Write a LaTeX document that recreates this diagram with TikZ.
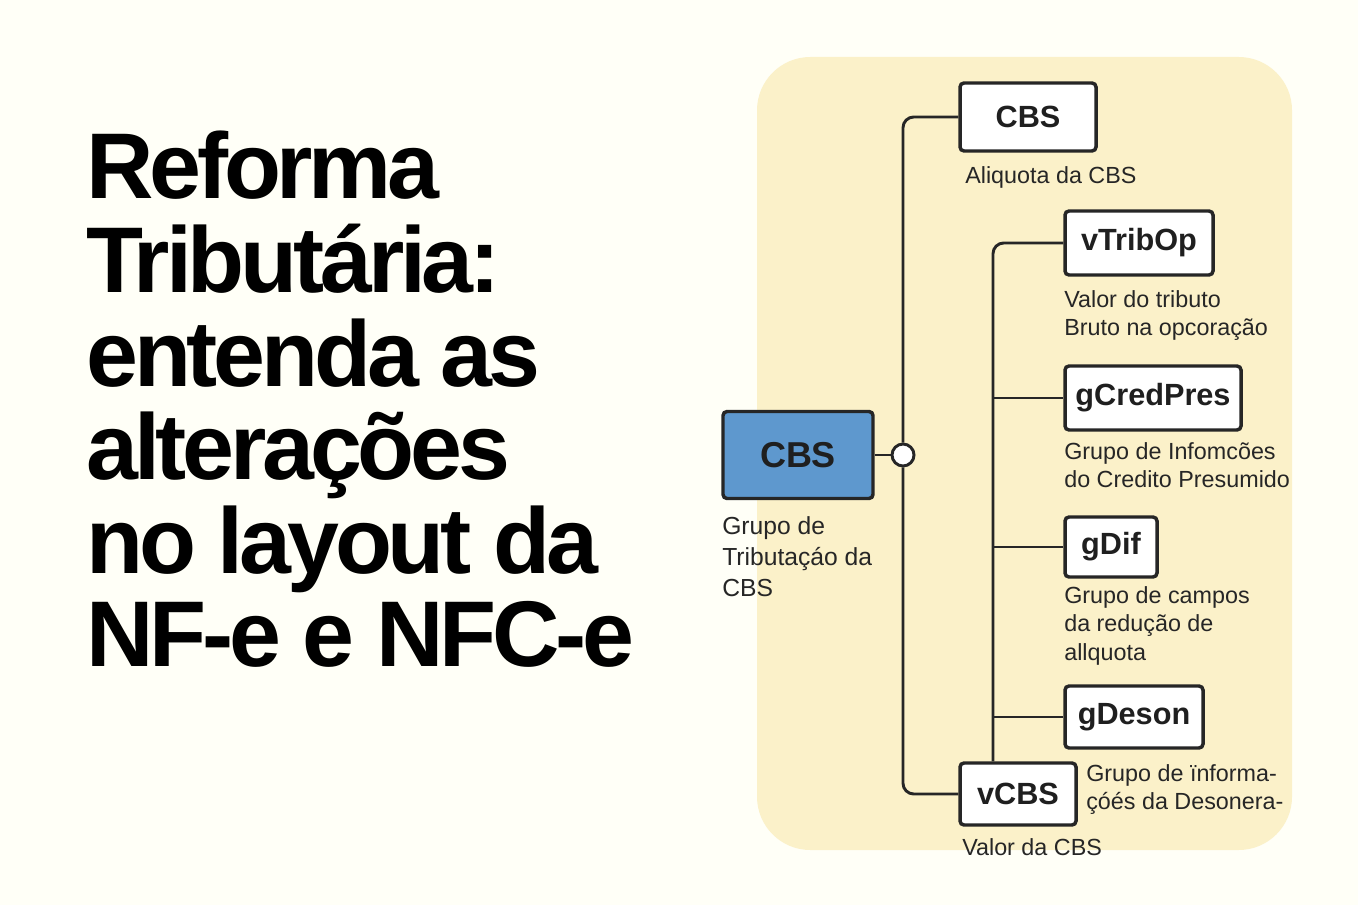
\documentclass[tikz,border=0pt]{standalone}
\usepackage{fontspec}
\setmainfont{Liberation Sans}
\newfontfamily\titlefont[LetterSpace=-4.5]{Liberation Sans}
\begin{document}
\begin{tikzpicture}[x=0.75pt,y=-0.75pt,
  box/.style={draw=black!85,line width=2.6pt,rounded corners=3pt,fill=white,font=\bfseries\fontsize{23}{23}\selectfont,inner sep=0pt,text=black!88},
  lbl/.style={anchor=north west,align=left,font=\fontsize{17.5}{21.5}\selectfont,inner sep=0pt,text=black!85},
  wire/.style={line width=2.2pt,draw=black!85,rounded corners=8pt}]
\fill[white!97!yellow] (0,0) rectangle (1358,905);
\useasboundingbox (0,0) rectangle (1358,905);
\fill[rounded corners=40pt,fill={rgb,255:red,251;green,241;blue,201}] (757,57) rectangle (1292,850);
\node[anchor=north west,align=left,inner sep=0pt,font=\titlefont\bfseries\fontsize{70}{70.2}\selectfont] (title) at (86,131)
 {Reforma\\Tributária:\\entenda as\\alterações\\no layout da\\NF-e e NFC-e};
% nodes
\node[box,minimum width=136*0.75pt,minimum height=68*0.75pt] (cbs1) at (1028,117) {CBS};
\node[box,minimum width=148*0.75pt,minimum height=64*0.75pt] (vtrib) at (1139,243) {vTribOp};
\node[box,minimum width=176*0.75pt,minimum height=64*0.75pt] (gcred) at (1153,398) {gCredPres};
\node[box,minimum width=92*0.75pt,minimum height=60*0.75pt] (gdif) at (1111,547) {gDif};
\node[box,minimum width=138*0.75pt,minimum height=62*0.75pt] (gdes) at (1134,717) {gDeson};
\node[box,minimum width=116*0.75pt,minimum height=62*0.75pt] (vcbs) at (1018,794) {vCBS};
\node[box,fill={rgb,255:red,94;green,152;blue,206},minimum width=150*0.75pt,minimum height=87*0.75pt,font=\bfseries\fontsize{27}{27}\selectfont] (cbs) at (798,455) {CBS};
\node[circle,draw=black!85,line width=2.2pt,fill=white,minimum size=22*0.75pt,inner sep=0pt] (hub) at (903,455) {};
% wires
\draw[wire] (cbs.east) -- (hub.west);
\draw[wire] (hub.north) |- (cbs1.west);
\draw[wire] (hub.south) |- (vcbs.west);
\coordinate (t2) at (993,243);
\draw[wire] (vtrib.west) -| (vcbs.north -| t2);
\draw[wire] (gcred.west -| t2) -- (gcred.west);
\draw[wire] (gdif.west -| t2) -- (gdif.west);
\draw[wire] (gdes.west -| t2) -- (gdes.west);
% labels
\node[lbl] (l1) at (965,166) {Aliquota da CBS};
\node[lbl] (l2) at (1064,290) {Valor do tributo\\Bruto na opcoração};
\node[lbl] (l3) at (1064,442) {Grupo de Infomcões\\do Credito Presumido};
\node[lbl] (l4) at (1064,586) {Grupo de campos\\da redução de\\allquota};
\node[lbl] (l5) at (1086,764) {Grupo de ïnforma-\\çóés da Desonera-};
\node[lbl] (l6) at (962,838) {Valor da CBS};
\node[lbl,font=\fontsize{18.5}{23.5}\selectfont] (l7) at (722,516) {Grupo de\\Tributaçáo da\\CBS};
\end{tikzpicture}
\end{document}
